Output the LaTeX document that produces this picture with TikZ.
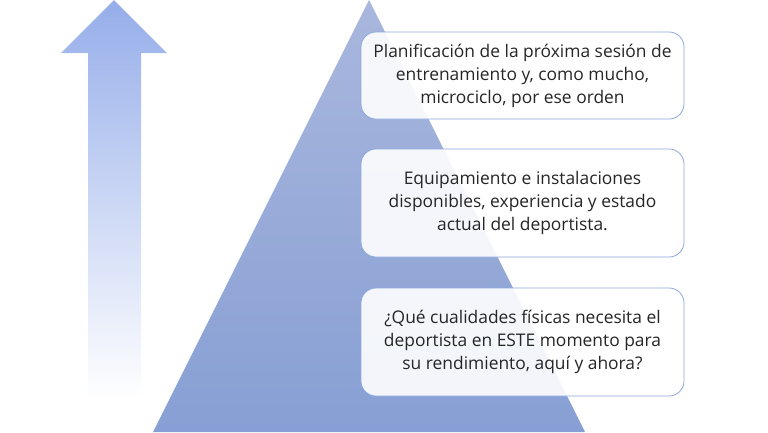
\documentclass[tikz,border=0pt]{standalone}
\usepackage{fontspec}
\setmainfont{Open Sans}
\definecolor{arrowblue}{HTML}{95ADE9}
\definecolor{pyrtop}{HTML}{A9B7DD}
\definecolor{pyrbot}{HTML}{879FD4}
\definecolor{boxline}{HTML}{8EA8DE}
\definecolor{txt}{HTML}{262626}
\tikzset{>=latex,every node/.style={font=\fontsize{17.4}{23}\selectfont,text=txt},
  stagebox/.style={draw=boxline,line width=.8pt,rounded corners=15pt,fill=white,
    fill opacity=.9,text opacity=1,minimum width=323pt,align=center,inner sep=0pt}}
\begin{document}
\begin{tikzpicture}[x=1pt,y=-1pt]
    \useasboundingbox (0,0) rectangle (768,432);
    % arrow fading downwards
    \shade[top color=arrowblue,bottom color=white] (114,0) -- (167,53) -- (141,53) -- (141,398)
        -- (88,398) -- (88,53) -- (61,53) -- cycle;
    % pyramid
    \shade[top color=pyrtop,bottom color=pyrbot] (369,0) -- (585,432) -- (153,432) -- cycle;

    \node[stagebox,minimum height=87pt] (plan) at (522.5,75.5)
        {Planificación de la próxima sesión de\\entrenamiento y, como mucho,\\microciclo, por ese orden};
    \node[stagebox,minimum height=108pt] (equip) at (522.5,203)
        {Equipamiento e instalaciones\\disponibles, experiencia y estado\\actual del deportista.};
    \node[stagebox,minimum height=108pt] (cual) at (522.5,342)
        {¿Qué cualidades físicas necesita el\\deportista en ESTE momento para\\su rendimiento, aquí y ahora?};
\end{tikzpicture}
\end{document}
